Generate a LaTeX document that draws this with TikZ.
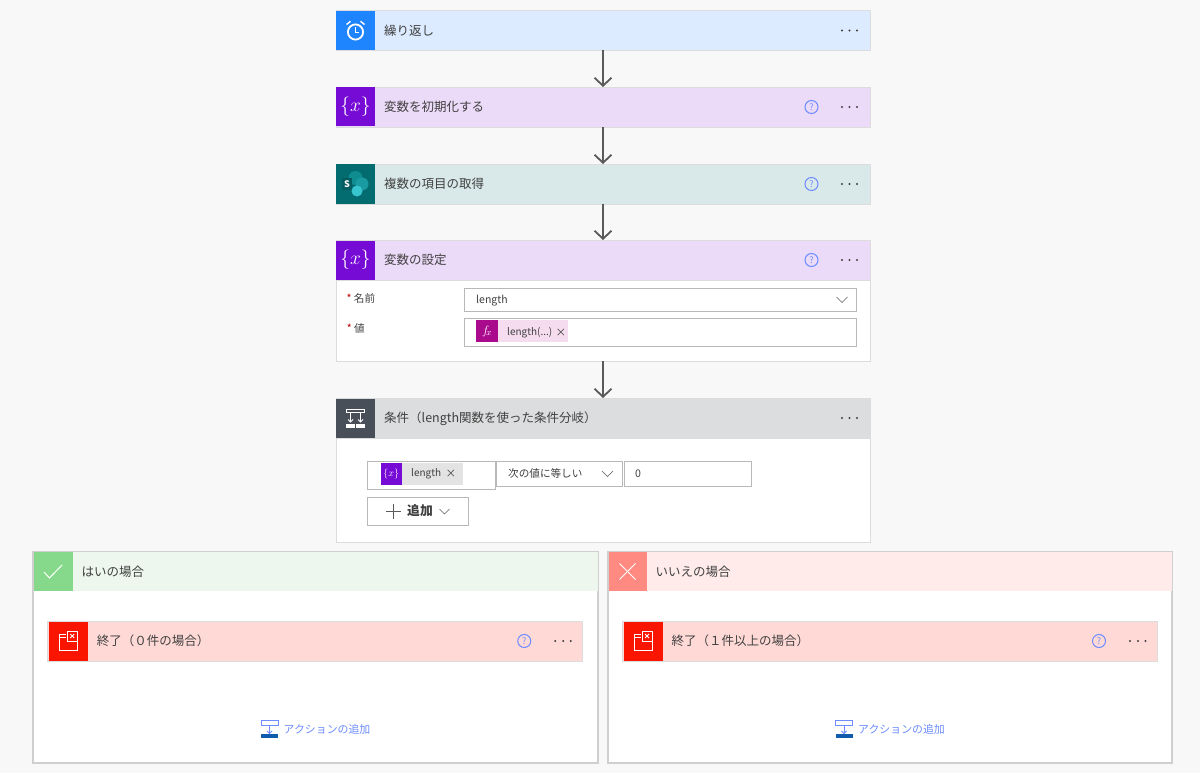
\documentclass[tikz,border=0pt]{standalone}
\usepackage{fontspec}
\setmainfont{Noto Sans CJK JP}
\usetikzlibrary{
  calc,
  positioning,
  arrows.meta
}
\definecolor{pagebg}{HTML}{F8F8F8}
\definecolor{edgegray}{HTML}{DCDCDC}
\definecolor{framegray}{HTML}{CFCFCF}
\definecolor{fieldgray}{HTML}{B8B8B8}
\definecolor{inkgray}{HTML}{404040}
\definecolor{arrowgray}{HTML}{5A5A5A}
\definecolor{loopblue}{HTML}{1F85FF}
\definecolor{loopbg}{HTML}{DCEBFF}
\definecolor{varpurple}{HTML}{770BD6}
\definecolor{varbg}{HTML}{EBDAF8}
\definecolor{spteal}{HTML}{036C70}
\definecolor{spbg}{HTML}{D9E8E8}
\definecolor{spmid}{HTML}{0E8C90}
\definecolor{spright}{HTML}{1A9BA1}
\definecolor{splow}{HTML}{37C6D0}
\definecolor{condgray}{HTML}{484F58}
\definecolor{condbg}{HTML}{DCDDDE}
\definecolor{yesgreen}{HTML}{86D98A}
\definecolor{yesbg}{HTML}{EDF7EE}
\definecolor{nored}{HTML}{FF8A82}
\definecolor{nobg}{HTML}{FFEBEA}
\definecolor{endred}{HTML}{F91500}
\definecolor{endbg}{HTML}{FFD9D6}
\definecolor{fxpink}{HTML}{AA0A8C}
\definecolor{fxbg}{HTML}{F5DCEF}
\definecolor{chipbg}{HTML}{E3E3E3}
\definecolor{linkblue}{HTML}{6C8CFF}
\definecolor{linkdark}{HTML}{0F5CAC}
\tikzset{
  cardbar/.style={rectangle, draw=edgegray, line width=.8pt, minimum width=534pt, minimum height=40pt, inner sep=0pt, outer sep=0pt},
  cardbody/.style={rectangle, draw=edgegray, line width=.8pt, fill=white, minimum width=534pt, inner sep=0pt, outer sep=0pt},
  iconbox/.style={rectangle, minimum width=39pt, minimum height=39pt, inner sep=0pt, outer sep=0pt, text=white},
  cardtext/.style={inner sep=0pt, text=inkgray, text height=10pt, text depth=.5pt, font=\fontsize{12.5}{14}\selectfont},
  smalltext/.style={inner sep=0pt, text=inkgray, font=\fontsize{10.6}{12}\selectfont},
  fieldbox/.style={rectangle, draw=fieldgray, line width=1pt, fill=white, inner sep=0pt, outer sep=0pt},
  flowarrow/.style={draw=arrowgray, line width=1.8pt, -{Straight Barb[length=8pt,width=17pt,line width=1.8pt]}},
  framebox/.style={rectangle, draw=framegray, line width=1.2pt, fill=white, inner sep=0pt},
  glyphline/.style={draw=white, line width=1pt},
  chevron/.style={draw=arrowgray, line width=.6pt}
}
\begin{document}
\begin{tikzpicture}[x=1pt, y=-1pt]
    \node[rectangle, fill=pagebg, minimum width=1200pt, minimum height=773pt, inner sep=0pt, outer sep=0pt] (page) at (600,386.5) {};
    \useasboundingbox (0,0) rectangle (1200,773);

    % upper cards
    \node[cardbar, fill=loopbg] (loopbar) at (603,30.5) {};
    \node[cardbar, fill=varbg, below=36.5pt of loopbar] (initbar) {};
    \node[cardbar, fill=spbg, below=37pt of initbar] (spbar) {};
    \node[cardbar, fill=varbg, below=36pt of spbar] (setbar) {};
    \node[cardbody, minimum height=81pt, below=0pt of setbar] (setbody) {};
    \node[cardbar, fill=condbg, below=37pt of setbody] (condbar) {};
    \node[cardbody, minimum height=104pt, below=0pt of condbar] (condbody) {};

    \node[iconbox, fill=loopblue, right=0pt of loopbar.west] (loopicon) {};
    \node[iconbox, fill=varpurple, right=0pt of initbar.west, font=\fontsize{18}{18}\selectfont] (initicon) {\scalebox{1.12}{$\{x\}$}};
    \node[iconbox, fill=spteal, right=0pt of spbar.west] (spicon) {};
    \node[iconbox, fill=varpurple, right=0pt of setbar.west, font=\fontsize{18}{18}\selectfont] (seticon) {\scalebox{1.12}{$\{x\}$}};
    \node[iconbox, fill=condgray, right=0pt of condbar.west] (condicon) {};

    \node[cardtext, right=9pt of loopicon] (looptext) {繰り返し};
    \node[cardtext, right=9pt of initicon] (inittext) {変数を初期化する};
    \node[cardtext, right=9pt of spicon] (sptext) {複数の項目の取得};
    \node[cardtext, right=9pt of seticon] (settext) {変数の設定};
    \node[cardtext, right=9pt of condicon] (condtext) {条件（length関数を使った条件分岐）};

    \draw[flowarrow] (loopbar) -- (initbar);
    \draw[flowarrow] (initbar) -- (spbar);
    \draw[flowarrow] (spbar) -- (setbar);
    \draw[flowarrow] (setbody) -- (condbar);

    % clock glyph
    \draw[glyphline, line width=1.8pt] (loopicon.center) ++(0,1.5) circle (7.6pt);
    \draw[glyphline, line width=1.2pt] ($(loopicon.center)+(0,-3)$) -- ++(0,5) -- ++(3.5,0);
    \draw[glyphline, line width=1.4pt] ($(loopicon.center)+(-9,-6)$) -- ++(4,-3.2);
    \draw[glyphline, line width=1.4pt] ($(loopicon.center)+(9,-6)$) -- ++(-4,-3.2);

    % sharepoint glyph
    \fill[spmid] ($(spicon.center)+(0,-6)$) circle (7pt);
    \fill[spright] ($(spicon.center)+(6.5,0)$) circle (6.5pt);
    \fill[splow] ($(spicon.center)+(1.5,7)$) circle (5.5pt);
    \node[rectangle, fill=spteal!85!black, text=white, minimum width=10pt, minimum height=12pt, inner sep=0pt, font=\bfseries\fontsize{9}{9}\selectfont] (spletter) at ($(spicon.center)+(-8.5,0)$) {S};

    % condition glyph
    \draw[glyphline] ($(condicon.center)+(-9,-9)$) rectangle ($(condicon.center)+(9,-5.5)$);
    \foreach \side in {-5,5} {
      \draw[glyphline] ($(condicon.center)+(\side,-5)$) -- ++(0,9);
      \draw[glyphline] ($(condicon.center)+(\side-2.5,1.5)$) -- ++(2.5,2.5) -- ++(2.5,-2.5);
      \fill[white] ($(condicon.center)+(\side-4.2,5.5)$) rectangle ++(8.4,4);
    }

    % menu dots and help marks
    \foreach \bar in {loopbar,initbar,spbar,setbar,condbar} {
      \foreach \gap in {-28,-20.5,-13} {
        \fill[inkgray] ($(\bar.east)+(\gap,0)$) circle (1.1pt);
      }
    }
    \foreach \bar in {initbar,spbar,setbar} {
      \node[circle, draw=linkblue, line width=1pt, minimum size=13pt, inner sep=0pt, text=linkblue, font=\fontsize{9}{9}\selectfont] (help\bar) at ($(\bar.east)+(-58.5,0)$) {?};
    }

    % set variable fields
    \node[smalltext] (nametext) at (364.5,298.5) {名前};
    \node[smalltext, text=red!75!black, left=2pt of nametext] (namestar) {*};
    \node[smalltext] (valuetext) at (359.5,328) {値};
    \node[smalltext, text=red!75!black, left=2pt of valuetext] (valuestar) {*};
    \node[fieldbox, minimum width=392.5pt, minimum height=23pt] (namefield) at (660.25,299.5) {};
    \node[smalltext, right=12pt of namefield.west, yshift=-1pt, font=\fontsize{10.5}{12}\selectfont] (nameval) {length};
    \draw[chevron] ($(namefield.east)+(-20,-2.5)$) -- ++(5.5,5.5) -- ++(5.5,-5.5);
    \node[fieldbox, minimum width=392.5pt, minimum height=28pt] (valuefield) at (660.25,332) {};
    \node[rectangle, fill=fxbg, minimum width=70pt, minimum height=22pt, inner sep=0pt, outer sep=0pt] (fxchip) at (533,331) {};
    \node[rectangle, fill=fxpink, text=white, minimum width=22pt, minimum height=22pt, inner sep=0pt, outer sep=0pt, left=0pt of fxchip, font=\fontsize{13}{13}\selectfont] (fxicon) {$f_{\!x}$};
    \node[smalltext, right=9pt of fxicon, yshift=-1.5pt, font=\fontsize{10}{12}\selectfont] (fxtext) {length(...)};
    \node[smalltext, right=3pt of fxtext] (fxclose) {×};

    % condition row
    \node[fieldbox, minimum width=127.5pt, minimum height=28pt] (leftfield) at (431.25,475) {};
    \node[rectangle, fill=chipbg, minimum width=61pt, minimum height=21.5pt, inner sep=0pt, outer sep=0pt] (lenchip) at (432.5,473.75) {};
    \node[rectangle, fill=varpurple, text=white, minimum width=21.5pt, minimum height=21.5pt, inner sep=0pt, outer sep=0pt, left=0pt of lenchip, font=\fontsize{10}{10}\selectfont] (lenicon) {$\{x\}$};
    \node[smalltext, right=9pt of lenicon, yshift=-.5pt, font=\fontsize{10}{12}\selectfont] (lentext) {length};
    \node[smalltext, right=4pt of lentext] (lenclose) {×};
    \node[fieldbox, minimum width=126pt, minimum height=25pt] (opfield) at (559,473.5) {};
    \node[smalltext, right=12pt of opfield.west] (optext) {次の値に等しい};
    \draw[chevron] ($(opfield.east)+(-20,-2.5)$) -- ++(5.5,5.5) -- ++(5.5,-5.5);
    \node[fieldbox, minimum width=127pt, minimum height=25pt] (zerofield) at (687.5,473.5) {};
    \node[smalltext, right=11pt of zerofield.west] (zerotext) {0};
    \node[fieldbox, minimum width=101pt, minimum height=28pt] (addbutton) at (417.5,511) {};
    \draw[arrowgray, line width=.8pt] ($(addbutton.west)+(18.5,0)$) -- ++(15,0) ($(addbutton.west)+(26,-7.5)$) -- ++(0,15);
    \node[smalltext, font=\bfseries\fontsize{12.8}{14}\selectfont, right=40pt of addbutton.west] (addtext) {追加};
    \draw[chevron] ($(addbutton.west)+(72.5,-2)$) -- ++(5,5) -- ++(5,-5);

    % branch frames
    \node[framebox, minimum width=565pt, minimum height=211pt] (yesframe) at (315.5,657.5) {};
    \node[framebox, minimum width=564pt, minimum height=211pt] (noframe) at (890,657.5) {};
    \node[cardbar, draw=none, fill=yesbg, minimum width=564pt, minimum height=39pt] (yesbar) at (315.5,571.5) {};
    \node[cardbar, draw=none, fill=nobg, minimum width=563pt, minimum height=39pt] (nobar) at (890,571.5) {};
    \node[iconbox, fill=yesgreen, right=0pt of yesbar.west] (yesicon) {};
    \node[iconbox, fill=nored, minimum width=38pt, right=0pt of nobar.west] (noicon) {};
    \node[cardtext, right=9pt of yesicon] (yestext) {はいの場合};
    \node[cardtext, right=9pt of noicon] (notext) {いいえの場合};
    \draw[glyphline] ($(yesicon.center)+(-9,0.5)$) -- ++(5.5,6) -- ++(12.5,-13);
    \draw[glyphline] ($(noicon.center)+(-8,-8)$) -- ++(16,16) ($(noicon.center)+(8,-8)$) -- ++(-16,16);

    % terminate cards
    \node[cardbar, fill=endbg, minimum width=534.5pt] (yesend) at (315,641) {};
    \node[cardbar, fill=endbg, minimum width=534.5pt] (noend) at (889.75,641) {};
    \foreach \name/\words in {yes/終了（０件の場合）, no/終了（１件以上の場合）} {
      \node[iconbox, fill=endred, right=1pt of \name end.west] (\name endicon) {};
      \node[cardtext, right=9pt of \name endicon] (\name endtext) {\words};
      \draw[glyphline, line width=.8pt] ($(\name endicon.center)+(-9,-3.5)$) -- ++(7,0) ($(\name endicon.center)+(-9,-7)$) -- ++(7,0) ($(\name endicon.center)+(-9,-7)$) -- ++(0,16) -- ++(18,0) -- ++(0,-9);
      \draw[glyphline, line width=.8pt, fill=endred] ($(\name endicon.center)+(-1,-10)$) rectangle ++(10,10);
      \draw[glyphline, line width=.8pt] ($(\name endicon.center)+(2,-7)$) -- ++(4,4) ($(\name endicon.center)+(6,-7)$) -- ++(-4,4);
      \foreach \gap in {-27,-19,-11.5} {
        \fill[inkgray] ($(\name end.east)+(\gap,0)$) circle (1.1pt);
      }
      \node[circle, draw=linkblue, line width=1pt, minimum size=13pt, inner sep=0pt, text=linkblue, font=\fontsize{9}{9}\selectfont] (\name endhelp) at ($(\name end.east)+(-58,0)$) {?};
      % add action link
      \coordinate (\name link) at ($(\name frame.south)+(-46,-34)$);
      \draw[linkblue, line width=.9pt] ($(\name link)+(-8.5,-9)$) rectangle ++(17,4.5);
      \draw[linkblue, line width=.9pt, -{Straight Barb[length=2.5pt,width=5pt]}] ($(\name link)+(0,-4.5)$) -- ++(0,9);
      \fill[linkdark] ($(\name link)+(-8.5,4.5)$) rectangle ++(17,4);
      \node[smalltext, text=linkblue, font=\fontsize{10.9}{12}\selectfont, right=14pt of \name link] (\name linktext) {アクションの追加};
    }
  \end{tikzpicture}
\end{document}
